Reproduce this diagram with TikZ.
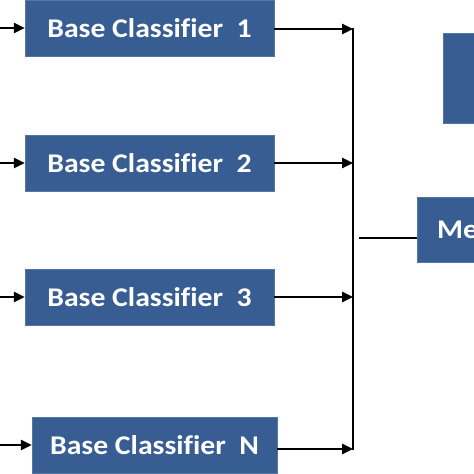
\documentclass[tikz,border=0pt]{standalone}
\usepackage{fontspec}
\setmainfont[Ligatures=NoCommon,FakeStretch=1.1]{Carlito}
\usepackage{tikz}
\usetikzlibrary{positioning}
\usetikzlibrary{arrows.meta,calc}
\definecolor{boxblue}{RGB}{56,93,146}
\tikzstyle{classbox}=[rectangle,fill=boxblue,draw=boxblue!85,text=white,font=\fontsize{27}{31}\selectfont\bfseries,minimum height=56pt,inner sep=0pt]
\tikzstyle{edge} = [draw,line width=2.6pt,-{Triangle[length=11pt,width=10pt]}]
\tikzstyle{bus} = [draw,line width=2.6pt]
\tikzstyle{thinedge} = [draw,line width=1.5pt]

\begin{document}
\begin{tikzpicture}[x=1pt,y=1pt]
    \clip (0,0) rectangle (474,474);
    \useasboundingbox (0,0) rectangle (474,474);

    % base classifiers
    \foreach \pos/\name/\lbl in {{(149.5,446)/b1/1}, {(149.5,311)/b2/2}, {(149.5,177)/b3/3}}
            \node[classbox,minimum width=249pt] (\name) at \pos {Base Classifier\ \ \lbl};
    \node[classbox,minimum width=245pt] (bN) at (154.5,29) {Base Classifier\ \ N};

    % meta level
    \node[classbox,anchor=west,minimum height=65pt,inner xsep=20pt] (meta) at (417,244.5) {Meta Classifier};
    \node[classbox,anchor=north west,minimum width=80pt,minimum height=90pt] (top) at (443,441) {};

    % inputs and outputs
    \foreach \name in {b1,b2,b3,bN}
            \coordinate (in-\name) at (0,0 |- \name.west);
    \foreach \name in {b1,b2,b3,bN}
            \path[edge] (in-\name) -- (\name.west);
    \foreach \name/\y in {b1/445,b2/311,b3/177,bN/25}
            \coordinate (out-\name) at (353,\y);
    \foreach \name in {b1,b2,b3,bN}
            \path[edge] (\name.east |- out-\name) -- (out-\name);
    \path[bus] ([yshift=1.3pt]out-b1) -- ([yshift=-1.3pt]out-bN);

    \coordinate (join) at (359,236);
    \path[thinedge] (join) -- (join -| meta.west);
\end{tikzpicture}
\end{document}
